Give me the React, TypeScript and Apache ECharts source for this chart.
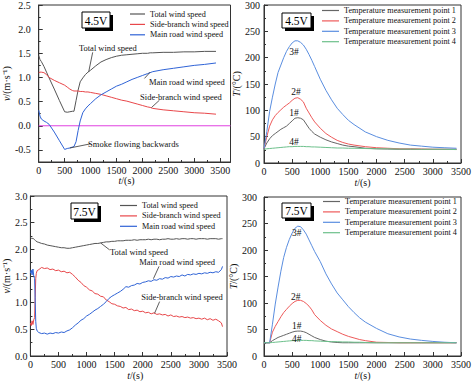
import React, { useEffect, useRef } from "react";
import * as echarts from "echarts";

const FONT = '"Liberation Serif", "Times New Roman", serif';

// ---------- 4.5 V wind speeds (top-left) ----------
const windTime45 = [0, 25, 50, 100, 150, 200, 300, 400, 500, 550, 600, 650, 680, 720, 760, 800, 850, 900, 950, 1000, 1100, 1200, 1300, 1400, 1500, 1600, 1700, 1800, 1900, 2000, 2100, 2150, 2200, 2400, 2600, 2800, 3000, 3200, 3420];
const totalWind45 = [1.45, 1.37, 1.33, 1.23, 1.11, 0.99, 0.76, 0.52, 0.29, 0.28, 0.29, 0.3, 0.3, 0.52, 0.74, 0.91, 0.99, 1.06, 1.11, 1.15, 1.24, 1.32, 1.37, 1.41, 1.44, 1.46, 1.47, 1.48, 1.49, 1.5, 1.5, 1.51, 1.51, 1.52, 1.52, 1.53, 1.53, 1.54, 1.54];
const sideWind45 = [1.1, 1.11, 1.11, 1.1, 1.06, 1.0, 0.94, 0.89, 0.84, 0.8, 0.76, 0.73, 0.72, 0.72, 0.72, 0.71, 0.71, 0.7, 0.7, 0.69, 0.67, 0.65, 0.62, 0.59, 0.56, 0.53, 0.51, 0.48, 0.45, 0.42, 0.39, 0.38, 0.36, 0.33, 0.31, 0.29, 0.27, 0.26, 0.24];
const mainWind45 = [0.32, 0.2, 0.14, 0.1, 0.07, 0.03, -0.13, -0.31, -0.49, -0.47, -0.46, -0.44, -0.43, -0.33, -0.1, 0.1, 0.27, 0.35, 0.41, 0.46, 0.56, 0.64, 0.7, 0.76, 0.82, 0.86, 0.91, 0.96, 1.0, 1.04, 1.08, 1.1, 1.12, 1.16, 1.19, 1.22, 1.25, 1.27, 1.3];
const zeroTime = [0, 3700];
const zeroValue = [0, 0];

// ---------- 7.5 V wind speeds (bottom-left) ----------
const windTime75 = [0, 15, 30, 45, 60, 75, 85, 95, 105, 120,
  150, 200, 250, 300, 350, 400, 450, 500, 550, 600, 650, 700, 750, 800, 850, 900, 950, 1000,
  1050, 1100, 1150, 1200, 1250, 1300, 1350, 1400, 1450, 1500, 1550, 1600, 1650, 1700, 1750, 1800, 1850, 1900, 1950, 2000,
  2050, 2100, 2150, 2200, 2250, 2300, 2350, 2400, 2450, 2500, 2550, 2600, 2650, 2700, 2750, 2800, 2850, 2900, 2950, 3000,
  3050, 3100, 3150, 3200, 3250, 3300, 3350, 3400, 3420];
const totalWind75 = [2.22, 2.21, 2.2, 2.21, 2.19, 2.18, 2.17, 2.16, 2.16, 2.14,
  2.13, 2.11, 2.1, 2.08, 2.07, 2.06, 2.05, 2.04, 2.03, 2.03, 2.02, 2.02, 2.03, 2.04, 2.05, 2.06, 2.07, 2.08,
  2.09, 2.1, 2.11, 2.11, 2.12, 2.13, 2.14, 2.14, 2.15, 2.15, 2.16, 2.16, 2.16, 2.17, 2.17, 2.17, 2.18, 2.17, 2.18, 2.18,
  2.18, 2.19, 2.18, 2.19, 2.19, 2.18, 2.19, 2.19, 2.2, 2.19, 2.19, 2.2, 2.19, 2.2, 2.2, 2.19, 2.2, 2.2, 2.19, 2.2,
  2.2, 2.2, 2.19, 2.2, 2.2, 2.2, 2.19, 2.2, 2.2];
const sideWind75 = [0.62, 0.57, 0.66, 0.59, 0.68, 0.72, 1.1, 1.45, 1.55, 1.6,
  1.62, 1.66, 1.64, 1.65, 1.62, 1.63, 1.6, 1.61, 1.58, 1.59, 1.56, 1.57, 1.53, 1.48, 1.42, 1.38, 1.32, 1.29,
  1.24, 1.22, 1.17, 1.16, 1.12, 1.11, 1.05, 1.02, 0.98, 0.97, 0.94, 0.93, 0.9, 0.91, 0.87, 0.88, 0.85, 0.86, 0.83, 0.84,
  0.81, 0.82, 0.79, 0.81, 0.78, 0.79, 0.77, 0.78, 0.75, 0.77, 0.74, 0.75, 0.73, 0.74, 0.72, 0.73, 0.71, 0.72, 0.7, 0.71,
  0.69, 0.71, 0.68, 0.7, 0.67, 0.69, 0.66, 0.62, 0.55];
const mainWind75 = [1.55, 1.61, 1.52, 1.63, 1.5, 1.45, 1.05, 0.65, 0.52, 0.47,
  0.44, 0.42, 0.43, 0.41, 0.43, 0.42, 0.44, 0.43, 0.45, 0.44, 0.47, 0.49, 0.53, 0.58, 0.62, 0.67, 0.7, 0.75,
  0.78, 0.82, 0.86, 0.89, 0.93, 0.97, 1.02, 1.08, 1.12, 1.15, 1.18, 1.21, 1.25, 1.3, 1.29, 1.32, 1.33, 1.36, 1.35, 1.38,
  1.39, 1.41, 1.4, 1.43, 1.42, 1.45, 1.44, 1.47, 1.46, 1.49, 1.48, 1.5, 1.49, 1.52, 1.5, 1.53, 1.52, 1.54, 1.53, 1.55,
  1.54, 1.56, 1.55, 1.57, 1.56, 1.58, 1.57, 1.62, 1.68];

// ---------- 4.5 V temperatures (top-right) ----------
const tempTime45 = [0, 50, 100, 150, 200, 250, 300, 350, 400, 450, 500, 550, 600, 650, 700, 750, 800, 850, 900, 1000, 1100, 1200, 1300, 1400, 1500, 1600, 1800, 2000, 2200, 2400, 2600, 2800, 3000, 3200, 3420];
const temp1_45 = [27, 38, 46, 52, 56, 60, 64, 67, 70, 75, 80, 85, 86, 85, 82, 74, 66, 60, 55, 49, 44, 40, 37, 34, 32, 31, 28, 27, 26.5, 26, 26, 26, 26, 26, 26];
const temp2_45 = [27, 50, 70, 82, 90, 96, 101, 106, 110, 114, 119, 123, 124, 121, 116, 104, 95, 86, 78, 66, 56, 49, 43, 39, 36, 34, 31, 29, 28, 27, 27, 26.5, 26, 26, 26];
const temp3_45 = [27, 60, 98, 125, 150, 172, 186, 200, 212, 221, 228, 232, 232, 229, 224, 216, 206, 195, 183, 159, 138, 120, 104, 92, 81, 73, 59, 50, 43, 38, 34, 32, 30, 29, 28];
const temp4_45 = [26, 27, 27.5, 28, 28.5, 29, 29.5, 30, 30.5, 31, 31, 31.5, 31.5, 31.5, 31.5, 31, 31, 30.5, 30.5, 30, 29.5, 29, 28.5, 28.5, 28, 28, 27.5, 27, 27, 26.5, 26.5, 26, 26, 26, 25.5];

// ---------- 7.5 V temperatures (bottom-right) ----------
const tempTime75 = [0, 100, 150, 200, 250, 300, 350, 400, 450, 500, 550, 600, 650, 700, 750, 800, 850, 900, 1000, 1100, 1200, 1300, 1400, 1500, 1600, 1700, 1800, 2000, 2200, 2400, 2600, 2800, 3000, 3200, 3420];
const temp1_75 = [25, 25, 29, 32, 35, 37, 39, 41, 43, 45, 46.5, 47, 47, 46, 44, 41, 38, 35, 31, 28, 26.5, 25.5, 25, 25, 25, 25, 25, 25, 25, 25, 25, 25, 25, 25, 25];
const temp2_75 = [25, 25, 45, 56, 65, 74, 82, 88, 94, 99, 103, 105, 105, 103, 99, 94, 87, 78, 67, 58, 51, 46, 41, 37, 34, 31, 29, 26, 25.5, 25, 25, 25, 25, 25, 25];
const temp3_75 = [25, 25, 60, 98, 130, 160, 186, 205, 220, 232, 241, 245, 244, 238, 230, 219, 208, 197, 178, 155, 136, 119, 106, 93, 82, 72, 64, 52, 42, 36, 32, 29.5, 27.5, 26, 25];
const temp4_75 = [25, 25, 25.5, 26, 26.5, 27, 27.5, 28, 28.5, 29, 29, 29.5, 29.5, 29.5, 29.5, 29, 29, 28.5, 28, 27.5, 27, 27, 26.5, 26.5, 26, 26, 25.5, 25, 25, 25, 25, 25, 25, 25, 25];

const windNames = ["Total wind speed", "Side-branch wind speed", "Main road wind speed"];
const tempNames = ["Temperature measurement point 1", "Temperature measurement point 2", "Temperature measurement point 3", "Temperature measurement point 4"];
const pointLabels = ["1#", "2#", "3#", "4#"];
const panelLabels = ["4.5V", "4.5V", "7.5V", "7.5V"];
const smokeNote = "Smoke flowing backwards";

const zip = (t: number[], v: number[]) => t.map((x, i) => [x, v[i]]);

const C_TOTAL = "#555555";
const C_SIDE = "#e8474a";
const C_MAIN = "#2f63d6";
const C_T1 = "#666666";
const C_T2 = "#ee5a5a";
const C_T3 = "#5a8ee0";
const C_T4 = "#6cc08b";
const C_ZERO = "#e040e0";

function xAxis(grid: number, max: number, nameGap: number, namePad: number[], showMax: boolean) {
  return {
    type: "value", gridIndex: grid, min: 0, max, interval: 500,
    axisLine: { show: true, onZero: false, lineStyle: { color: "#333", width: 1 } },
    axisTick: { show: true, inside: true, length: 4, lineStyle: { color: "#333" } },
    minorTick: { show: true, splitNumber: 2, length: 2, lineStyle: { color: "#333" } },
    splitLine: { show: false },
    axisLabel: { margin: 3, color: "#111", fontSize: 10, fontFamily: FONT, showMaxLabel: showMax, formatter: (v: number) => String(v) },
    name: "{i|t}/(s)", nameLocation: "middle", nameGap,
    nameTextStyle: { color: "#111", fontSize: 10, fontFamily: FONT, padding: namePad, rich: { i: { fontStyle: "italic", fontSize: 10, fontFamily: FONT, color: "#111" } } },
  };
}

function yAxis(grid: number, opts: any, name: string, nameGap: number, margin: number, fmt?: (v: number) => string) {
  return {
    type: "value", gridIndex: grid, ...opts,
    axisLine: { show: true, onZero: false, lineStyle: { color: "#333", width: 1 } },
    axisTick: { show: true, inside: true, length: 4, lineStyle: { color: "#333" } },
    minorTick: { show: true, splitNumber: 2, length: 2, lineStyle: { color: "#333" } },
    splitLine: { show: false },
    axisLabel: { margin, color: "#111", fontSize: 10, fontFamily: FONT, formatter: fmt || ((v: number) => String(v)), showMinLabel: opts.showMinLabel !== false },
    name, nameLocation: "middle", nameGap,
    nameTextStyle: { color: "#111", fontSize: 10, fontFamily: FONT, rich: { i: { fontStyle: "italic", fontSize: 10, fontFamily: FONT, color: "#111" } } },
  };
}

const line = (name: string, grid: number, data: number[][], color: string, width = 1, extra: any = {}) => ({
  type: "line", name, xAxisIndex: grid, yAxisIndex: grid, data, symbol: "none", showSymbol: false,
  lineStyle: { color, width }, itemStyle: { color }, z: 3, ...extra,
});

const marks = (labels: { name: string; coord: number[]; size?: number }[], leaders: number[][][]) => ({
  markPoint: {
    silent: true, symbol: "rect", symbolSize: 1, itemStyle: { color: "rgba(0,0,0,0)" },
    label: { show: true, position: "inside", formatter: "{b}", color: "#111", fontSize: 8.5, fontFamily: FONT },
    data: labels.map((l) => ({ name: l.name, coord: l.coord, label: l.size ? { fontSize: l.size } : undefined })),
  },
  markLine: {
    silent: true, symbol: ["none", "none"], label: { show: false },
    lineStyle: { color: "#333", width: 0.8, type: "solid" },
    data: leaders.map((s) => [{ coord: s[0] }, { coord: s[1] }]),
  },
});

function panelBox(x: number, y: number, w: number, h: number, text: string) {
  return {
    type: "group", x, y, z: 50,
    children: [
      { type: "rect", shape: { x: 3, y: 3, width: w, height: h }, style: { fill: "#000" } },
      { type: "rect", shape: { x: 0, y: 0, width: w, height: h }, style: { fill: "#fff", stroke: "#000", lineWidth: 1 } },
      { type: "text", x: w / 2, y: h / 2 + 0.5, style: { text, fontSize: 11.5, fontFamily: FONT, fill: "#000", align: "center", verticalAlign: "middle" } },
    ],
  };
}

export default function App() {
  const ref = useRef<HTMLDivElement>(null);
  useEffect(() => {
    if (!ref.current) return;
    const chart = echarts.init(ref.current, undefined, { renderer: "svg" });
    const legendBase = {
      orient: "vertical", icon: "rect", itemHeight: 1.2, itemGap: 2.4, padding: 0, selectedMode: false,
      textStyle: { fontSize: 8.2, fontFamily: FONT, color: "#111", lineHeight: 8 },
    };
    const option: any = {
      animation: false,
      backgroundColor: "#fff",
      textStyle: { fontFamily: FONT },
      grid: [
        { left: 35, top: 3.5, width: 195.5, height: 158.5, show: true, borderColor: "#333", borderWidth: 1, backgroundColor: "transparent" },
        { left: 264, top: 3, width: 201, height: 160, show: true, borderColor: "#333", borderWidth: 1, backgroundColor: "transparent" },
        { left: 26, top: 196, width: 201, height: 162, show: true, borderColor: "#333", borderWidth: 1, backgroundColor: "transparent" },
        { left: 264, top: 197, width: 204, height: 159, show: true, borderColor: "#333", borderWidth: 1, backgroundColor: "transparent" },
      ],
      xAxis: [
        xAxis(0, 3700, 13, [0, 16, 0, 0], false),
        xAxis(1, 3500, 14, [0, 0, 0, 0], true),
        xAxis(2, 3500, 14, [0, 0, 0, 13], true),
        xAxis(3, 3500, 14, [0, 0, 0, 0], true),
      ],
      yAxis: [
        yAxis(0, { min: -0.75, max: 2.5, showMinLabel: false }, "{i|v}/(m·s⁻¹)", 23, 8, (v: number) => v.toFixed(1)),
        yAxis(1, { min: 0, max: 300, interval: 50 }, "{i|T}/(°C)", 16, 4),
        yAxis(2, { min: 0, max: 3, interval: 0.5 }, "{i|v}/(m·s⁻¹)", 16, 3, (v: number) => v.toFixed(1)),
        yAxis(3, { min: 0, max: 300, interval: 50 }, "{i|T}/(°C)", 18, 7),
      ],
      legend: [
        { ...legendBase, left: 130, top: 10, itemWidth: 15, data: windNames },
        { ...legendBase, left: 322, top: 6.5, itemWidth: 17, data: tempNames },
        { ...legendBase, left: 120, top: 201.5, itemWidth: 17, data: windNames },
        { ...legendBase, left: 323, top: 197.5, itemWidth: 17, data: tempNames },
      ],
      series: [
        // top-left
        line("zero", 0, zip(zeroTime, zeroValue), C_ZERO, 1, marks(
          [
            { name: windNames[0], coord: [1334, 1.6] },
            { name: windNames[2], coord: [2858, 0.9] },
            { name: windNames[1], coord: [2744, 0.59] },
            { name: smokeNote, coord: [1826, -0.376] },
          ],
          [
            [[965, 1.12], [1041, 1.52]],
            [[2150, 1.11], [2040, 0.98]],
            [[2176, 0.378], [2328, 0.528]],
            [[600, -0.46], [990, -0.376]],
          ],
        )),
        line(windNames[0], 0, zip(windTime45, totalWind45), C_TOTAL),
        line(windNames[1], 0, zip(windTime45, sideWind45), C_SIDE),
        line(windNames[2], 0, zip(windTime45, mainWind45), C_MAIN),
        // top-right
        line(tempNames[0], 1, zip(tempTime45, temp1_45), C_T1, 1, marks(
          [
            { name: pointLabels[2], coord: [535, 210], size: 9.5 },
            { name: pointLabels[1], coord: [569, 135], size: 9.5 },
            { name: pointLabels[0], coord: [535, 94], size: 9.5 },
            { name: pointLabels[3], coord: [535, 39], size: 9.5 },
          ], [])),
        line(tempNames[1], 1, zip(tempTime45, temp2_45), C_T2),
        line(tempNames[2], 1, zip(tempTime45, temp3_45), C_T3),
        line(tempNames[3], 1, zip(tempTime45, temp4_45), C_T4),
        // bottom-left
        line(windNames[0], 2, zip(windTime75, totalWind75), C_TOTAL, 1, marks(
          [
            { name: windNames[0], coord: [1933, 1.944] },
            { name: windNames[2], coord: [2612, 1.76] },
            { name: windNames[1], coord: [2699, 1.11] },
          ],
          [
            [[1250, 2.12], [1410, 1.99]],
            [[2190, 1.45], [2290, 1.68]],
            [[2210, 0.8], [2300, 1.02]],
          ],
        )),
        line(windNames[1], 2, zip(windTime75, sideWind75), C_SIDE),
        line(windNames[2], 2, zip(windTime75, mainWind75), C_MAIN),
        // bottom-right
        line(tempNames[0], 3, zip(tempTime75, temp1_75), C_T1, 1, marks(
          [
            { name: pointLabels[2], coord: [583, 232], size: 9.5 },
            { name: pointLabels[1], coord: [566, 111], size: 9.5 },
            { name: pointLabels[0], coord: [583, 56], size: 9.5 },
            { name: pointLabels[3], coord: [583, 32], size: 9.5 },
          ], [])),
        line(tempNames[1], 3, zip(tempTime75, temp2_75), C_T2),
        line(tempNames[2], 3, zip(tempTime75, temp3_75), C_T3),
        line(tempNames[3], 3, zip(tempTime75, temp4_75), C_T4),
      ],
      graphic: [
        panelBox(82, 12, 28, 16, panelLabels[0]),
        panelBox(282, 13, 29, 15, panelLabels[1]),
        panelBox(71, 203, 27, 16, panelLabels[2]),
        panelBox(282, 203, 29, 15, panelLabels[3]),
      ],
    };
    chart.setOption(option);
    return () => chart.dispose();
  }, []);
  return <div ref={ref} style={{ position: "absolute", left: 0, top: 0, width: 474, height: 381, background: "#fff" }} />;
}
